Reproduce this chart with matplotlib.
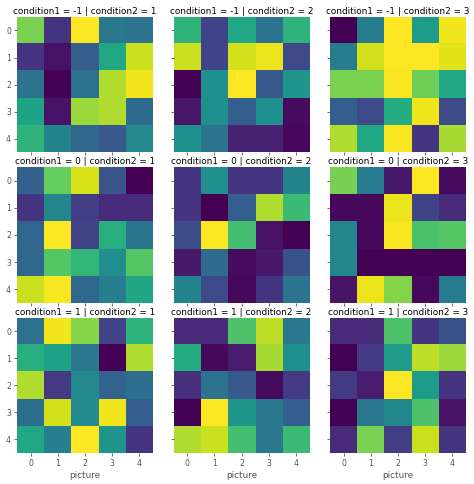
import numpy as np
import matplotlib
matplotlib.use("Agg")
import matplotlib.pyplot as plt

# facet levels
cond1_levels = [-1, 0, 1]
cond2_levels = [1, 2, 3]
pictures = [0, 1, 2, 3, 4]

# estimated cell values per facet (rows = y, cols = picture)
m_n1_1 = [[0.80, 0.15, 1.00, 0.40, 0.38],
          [0.15, 0.05, 0.30, 0.60, 0.92],
          [0.38, 0.00, 0.37, 0.88, 0.98],
          [0.58, 0.05, 0.85, 0.88, 0.35],
          [0.65, 0.45, 0.33, 0.28, 0.47]]
m_n1_2 = [[0.65, 0.20, 0.60, 0.38, 0.65],
          [0.92, 0.20, 0.93, 0.97, 0.22],
          [0.00, 0.50, 1.00, 0.28, 0.52],
          [0.06, 0.50, 0.30, 0.50, 0.03],
          [0.50, 0.38, 0.10, 0.10, 0.02]]
m_n1_3 = [[0.00, 0.42, 1.00, 0.55, 0.98],
          [0.42, 0.93, 1.00, 1.00, 0.95],
          [0.80, 0.80, 0.99, 0.78, 0.60],
          [0.30, 0.22, 0.62, 0.98, 0.23],
          [0.88, 0.60, 0.99, 0.15, 0.87]]
m_0_1 = [[0.30, 0.75, 0.92, 0.25, 0.00],
         [0.15, 0.45, 0.18, 0.12, 0.12],
         [0.32, 0.98, 0.20, 0.62, 0.38],
         [0.33, 0.72, 0.65, 0.48, 0.72],
         [0.90, 0.97, 0.33, 0.42, 0.58]]
m_0_2 = [[0.15, 0.50, 0.15, 0.15, 0.45],
         [0.15, 0.00, 0.30, 0.88, 0.68],
         [0.23, 1.00, 0.70, 0.05, 0.00],
         [0.07, 0.35, 0.03, 0.07, 0.25],
         [0.45, 0.22, 0.02, 0.15, 0.38]]
m_0_3 = [[0.78, 0.40, 0.07, 0.98, 0.03],
         [0.02, 0.02, 0.95, 0.20, 0.12],
         [0.45, 0.02, 0.97, 0.70, 0.72],
         [0.45, 0.00, 0.00, 0.00, 0.00],
         [0.05, 0.95, 0.80, 0.02, 0.40]]
m_1_1 = [[0.37, 0.98, 0.82, 0.20, 0.65],
         [0.63, 0.58, 0.40, 0.00, 0.88],
         [0.88, 0.17, 0.47, 0.32, 0.36],
         [0.36, 0.93, 0.48, 0.98, 0.30],
         [0.60, 0.43, 1.00, 0.52, 0.15]]
m_1_2 = [[0.12, 0.12, 0.72, 0.90, 0.40],
         [0.62, 0.02, 0.08, 0.87, 0.50],
         [0.14, 0.38, 0.28, 0.03, 0.17],
         [0.00, 1.00, 0.53, 0.40, 0.30],
         [0.88, 0.92, 0.70, 0.40, 0.68]]
m_1_3 = [[0.12, 0.12, 0.72, 0.15, 0.25],
         [0.00, 0.17, 0.55, 0.90, 0.85],
         [0.17, 0.08, 1.00, 0.55, 0.15],
         [0.00, 0.40, 0.46, 0.72, 0.05],
         [0.12, 0.80, 0.18, 0.92, 0.15]]

grid = [[m_n1_1, m_n1_2, m_n1_3],
        [m_0_1, m_0_2, m_0_3],
        [m_1_1, m_1_2, m_1_3]]

grey = "#555555"
fig, axes = plt.subplots(3, 3, figsize=(4.74, 4.84), dpi=100, sharex=True, sharey=True)
fig.subplots_adjust(left=0.036, right=0.983, top=0.965, bottom=0.064,
                    wspace=0.154, hspace=0.11)

for i, c1 in enumerate(cond1_levels):
    for j, c2 in enumerate(cond2_levels):
        ax = axes[i, j]
        ax.imshow(np.array(grid[i][j]), cmap="viridis")
        ax.set_title(f"condition1 = {c1} | condition2 = {c2}", fontsize=6.4, pad=2)
        for s in ax.spines.values():
            s.set_visible(False)
        ax.set_xticks(pictures)
        ax.set_yticks(pictures)
        ax.tick_params(labelsize=5.6, colors=grey, length=2.5, width=0.6, pad=2)
        if i == 2:
            ax.set_xlabel("picture", fontsize=6.4, color=grey, labelpad=2)

fig.savefig("out.png", dpi=100)
